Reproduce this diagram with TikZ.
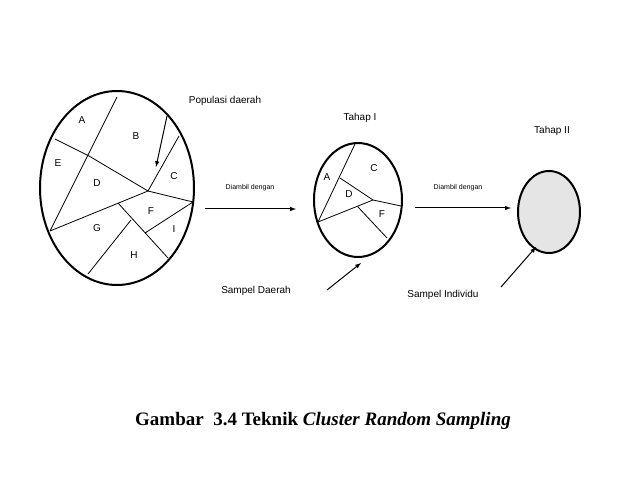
\documentclass[tikz,border=0pt]{standalone}
\usepackage{fontspec}
\setmainfont{Liberation Sans}
\newfontfamily\capfont{Liberation Serif}
\begin{document}
\begin{tikzpicture}[x=1pt,y=-1pt,
  lab/.style={font=\fontsize{10}{12}\selectfont},
  tiny/.style={font=\fontsize{7}{8}\selectfont},
  ring/.style={line width=2pt},
  part/.style={line width=0.8pt},
  arr/.style={-latex,line width=1pt}]
\useasboundingbox (0,0) rectangle (638,478);
% big ellipse
\draw[ring] (117,188) ellipse [x radius=77, y radius=97];
\coordinate (t1) at (117,97); \coordinate (l1) at (50,231); \coordinate (j1) at (89,156);
\coordinate (ae) at (55,139); \coordinate (j2) at (148,191); \coordinate (bc) at (179,136);
\coordinate (r1) at (193,202); \coordinate (gf) at (118,203); \coordinate (fb) at (168,258);
\coordinate (gh1) at (88,274); \coordinate (gh2) at (131,220); \coordinate (fi) at (145,233);
\draw[part] (t1)--(l1) (ae)--(j1)--(j2)--(bc) (j2)--(r1) (l1)--(j2) (gf)--(fb) (gh1)--(gh2) (fi)--(r1);
\foreach \t/\x/\y in {A/82/120,B/136/136,E/58/163,D/97/183,C/174/176,F/151/211,G/97/228,I/174/229,H/134/255}
  \node[lab] at (\x,\y) {\t};
% small ellipse
\draw[ring] (358,200) ellipse [x radius=44, y radius=57];
\coordinate (s1) at (355,144); \coordinate (s2) at (318,222); \coordinate (s3) at (340,178);
\coordinate (s4) at (373,200); \coordinate (s5) at (401,206); \coordinate (s6) at (358,207); \coordinate (s7) at (387,238);
\draw[part] (s1)--(s2) (s3)--(s4)--(s5) (s2)--(s4) (s6)--(s7);
\foreach \t/\x/\y in {A/327/177,C/374/168,D/349/194,F/382/214}
  \node[lab] at (\x,\y) {\t};
% third ellipse
\draw[ring,fill=gray!20] (549,212) ellipse [x radius=31, y radius=41];
% arrows
\coordinate (a1) at (205,209); \coordinate (a2) at (296,209);
\coordinate (b1) at (415,208); \coordinate (b2) at (511,208);
\draw[arr] (a1)--(a2); \draw[arr] (b1)--(b2);
\node[tiny] (d1) at (250,188) {Diambil dengan};
\node[tiny] (d2) at (458,188) {Diambil dengan};
\node[lab] (th1) at (360,118) {Tahap I};
\node[lab] (th2) at (552,131) {Tahap II};
\node[lab] (pop) at (225,101) {Populasi daerah};
\coordinate (p1) at (167,116); \coordinate (p2) at (156,167);
\draw[arr] (p1)--(p2);
\node[lab] (sd) at (256,291) {Sampel Daerah};
\coordinate (q1) at (327,290); \coordinate (q2) at (361,263);
\draw[arr] (q1)--(q2);
\node[lab] (si) at (443,295) {Sampel Individu};
\coordinate (r2) at (501,287); \coordinate (r3) at (536,247);
\draw[arr] (r2)--(r3);
\node[font=\capfont\bfseries\fontsize{19}{22}\selectfont] (cap) at (323,421) {Gambar\ \ 3.4 Teknik \textit{Cluster Random Sampling}};
\end{tikzpicture}
\end{document}
